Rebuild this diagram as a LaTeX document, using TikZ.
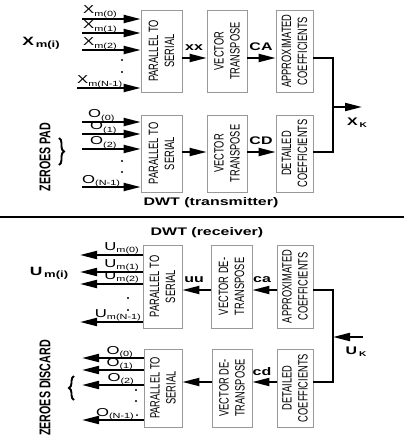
\documentclass[tikz,border=0pt]{standalone}
\usepackage{fontspec}
\setmainfont{Liberation Sans}
\newfontfamily\widesans[FakeStretch=1.45]{Liberation Sans}
\newfontfamily\tallsans[FakeStretch=0.69]{Liberation Sans}
\usetikzlibrary{positioning}
\usetikzlibrary{calc}
\usetikzlibrary{arrows.meta}
\usetikzlibrary{decorations.pathreplacing}

\newcommand{\sigtxt}[2]{{\fontsize{11.5}{11.5}\selectfont #1\raisebox{-2.5pt}{\fontsize{7.5}{8}\selectfont #2}}}

\tikzset{
  blk/.style={draw=gray!80, line width=0.8pt, inner sep=0pt},
  boxtxt/.style={rotate=90, align=center, inner sep=0pt, font=\tallsans\fontsize{13.5}{16}\selectfont},
  sidetxt/.style={rotate=90, inner sep=0pt, font=\tallsans\bfseries\fontsize{15.5}{16}\selectfont},
  arr/.style={line width=2pt, -{Triangle[length=17pt,width=8pt]}},
  bus/.style={line width=2.6pt},
  sig/.style={inner sep=0pt, font=\widesans},
  tag/.style={inner sep=0pt, font=\widesans\bfseries\fontsize{11}{11}\selectfont},
  brc/.style={line width=1.9pt, decorate, decoration={brace, amplitude=5pt}},
  dot/.style={fill=black}
}

\begin{document}
\begin{tikzpicture}[x=1pt, y=-1pt]
\useasboundingbox (0,0) rectangle (404,438);

% transmitter boxes
\node[blk, minimum width=41pt, minimum height=82pt] (ps1) at (161.5,51) {};
\node[blk, minimum width=40pt, minimum height=82pt] (vt1) at (227,51) {};
\node[blk, minimum width=37pt, minimum height=82pt] (ac1) at (294.5,51) {};
\node[blk, minimum width=41pt, minimum height=77pt] (ps2) at (161.5,153.5) {};
\node[blk, minimum width=40pt, minimum height=77pt] (vt2) at (227,153.5) {};
\node[blk, minimum width=37pt, minimum height=77pt] (dc1) at (294.5,153.5) {};

\node[boxtxt] (ps1t) at (ps1) {PARALLEL TO\\SERIAL};
\node[boxtxt] (vt1t) at (vt1) {VECTOR\\TRANSPOSE};
\node[boxtxt] (ac1t) at (ac1) {APPROXIMATED\\COEFFICIENTS};
\node[boxtxt] (ps2t) at (ps2) {PARALLEL TO\\SERIAL};
\node[boxtxt] (vt2t) at (vt2) {VECTOR\\TRANSPOSE};
\node[boxtxt] (dc1t) at (dc1) {DETAILED\\COEFFICIENTS};

% receiver boxes
\node[blk, minimum width=39pt, minimum height=83pt] (ps3) at (162.5,286.5) {};
\node[blk, minimum width=41pt, minimum height=83pt] (vt3) at (231.5,286.5) {};
\node[blk, minimum width=36pt, minimum height=83pt] (ac3) at (295,286.5) {};
\node[blk, minimum width=38pt, minimum height=78pt] (ps4) at (163,388) {};
\node[blk, minimum width=40pt, minimum height=78pt] (vt4) at (232,388) {};
\node[blk, minimum width=36pt, minimum height=78pt] (dc2) at (295,388) {};

\node[boxtxt] (ps3t) at (ps3) {PARALLEL TO\\SERIAL};
\node[boxtxt] (vt3t) at (vt3) {VECTOR DE-\\TRANSPOSE};
\node[boxtxt] (ac3t) at (ac3) {APPROXIMATED\\COEFFICIENTS};
\node[boxtxt] (ps4t) at (ps4) {PARALLEL TO\\SERIAL};
\node[boxtxt] (vt4t) at (vt4) {VECTOR DE-\\TRANSPOSE};
\node[boxtxt] (dc2t) at (dc2) {DETAILED\\COEFFICIENTS};

% transmitter chain
\draw[arr] ([yshift=-7pt]ps1.east) -- ([yshift=-7pt]vt1.west);
\draw[arr] ([yshift=-7pt]vt1.east) -- ([yshift=-7pt]ac1.west);
\draw[arr] ([yshift=1.5pt]ps2.east) -- ([yshift=1.5pt]vt2.west);
\draw[arr] ([yshift=1.5pt]vt2.east) -- ([yshift=1.5pt]dc1.west);
\node[tag] (xxl) at (194,48) {xx};
\node[tag] (cal) at (261,47) {CA};
\node[tag] (cdl) at (261,141) {CD};

\coordinate (jt) at (333,107);
\coordinate (xout) at (362,107);
\draw[bus] ([yshift=-7pt]ac1.east) -| (jt) |- ([yshift=1.5pt]dc1.east);
\draw[arr] (jt) -- (xout);
\node[tag] (xk) at (357,123) {X\,\raisebox{-2pt}{\fontsize{7}{7}\selectfont K}};

% transmitter inputs
\coordinate (xm0) at (82,19);
\coordinate (xm1) at (82,33);
\coordinate (xm2) at (82,50);
\coordinate (xmn) at (77,88);
\draw[arr] (xm0) -- (xm0 -| ps1.west);
\draw[arr] (xm1) -- (xm1 -| ps1.west);
\draw[arr] (xm2) -- (xm2 -| ps1.west);
\draw[arr] (xmn) -- (xmn -| ps1.west);
\node[sig, anchor=base west] (xm0l) at (83,14) {\sigtxt{X}{m(0)}};
\node[sig, anchor=base west] (xm1l) at (83,29) {\sigtxt{X}{m(1)}};
\node[sig, anchor=base west] (xm2l) at (83,46) {\sigtxt{X}{m(2)}};
\node[sig, anchor=base west] (xmnl) at (77,84) {\sigtxt{X}{m(N-1)}};
\fill[dot] (122,60) circle (1.2pt);
\fill[dot] (122,72) circle (1.2pt);
\node[tag] (xmi) at (41,43) {{\fontsize{12}{12}\selectfont X}\,\raisebox{-2pt}{\fontsize{9}{9}\selectfont m(i)}};

\coordinate (zp0) at (82,122);
\coordinate (zp1) at (82,134);
\coordinate (zp2) at (82,149);
\coordinate (zpn) at (82,187);
\draw[arr] (zp0) -- (zp0 -| ps2.west);
\draw[arr] (zp1) -- (zp1 -| ps2.west);
\draw[arr] (zp2) -- (zp2 -| ps2.west);
\draw[arr] (zpn) -- (zpn -| ps2.west);
\node[sig, anchor=base west] (zp0l) at (88,118) {\sigtxt{O}{(0)}};
\node[sig, anchor=base west] (zp1l) at (90,130) {\sigtxt{O}{(1)}};
\node[sig, anchor=base west] (zp2l) at (90,145) {\sigtxt{O}{(2)}};
\node[sig, anchor=base west] (zpnl) at (82,183) {\sigtxt{O}{(N-1)}};
\fill[dot] (122,161) circle (1.2pt);
\fill[dot] (122,172) circle (1.2pt);
\node[sidetxt] (zpad) at (45,157) {ZEROES PAD};
\draw[brc] (59,138) -- (59,165);

\node[tag] (txl) at (211,203) {DWT (transmitter)};
\draw[line width=1.3pt] (0,217) -- (404,217);
\node[tag] (rxl) at (207,233) {DWT (receiver)};

% receiver chain
\draw[arr] ([yshift=-3.5pt]ac3.west) -- ([yshift=-3.5pt]vt3.east);
\draw[arr] ([yshift=-3.5pt]vt3.west) -- ([yshift=-3.5pt]ps3.east);
\draw[arr] ([yshift=6pt]dc2.west) -- ([yshift=6pt]vt4.east);
\draw[arr] ([yshift=6pt]vt4.west) -- ([yshift=6pt]ps4.east);
\node[tag] (uul) at (194,280) {uu};
\node[tag] (cal2) at (262,280) {ca};
\node[tag] (cdl2) at (262,372) {cd};

\coordinate (jr) at (333,337);
\coordinate (uin) at (363,337);
\draw[bus] ([yshift=-3.5pt]ac3.east) -| (jr) |- ([yshift=6pt]dc2.east);
\draw[arr] (uin) -- (jr);
\node[tag] (uk) at (356,352) {U\,\raisebox{-2pt}{\fontsize{7}{7}\selectfont K}};

% receiver outputs
\coordinate (um0) at (80,255);
\coordinate (um1) at (80,272);
\coordinate (um2) at (80,284);
\coordinate (umn) at (80,322);
\draw[arr] (um0 -| ps3.west) -- (um0);
\draw[arr] (um1 -| ps3.west) -- (um1);
\draw[arr] (um2 -| ps3.west) -- (um2);
\draw[arr] (umn -| ps3.west) -- (umn);
\node[sig, anchor=base east] (um0l) at (139,250) {\sigtxt{U}{m(0)}};
\node[sig, anchor=base east] (um1l) at (139,267) {\sigtxt{U}{m(1)}};
\node[sig, anchor=base east] (um2l) at (139,279) {\sigtxt{U}{m(2)}};
\node[sig, anchor=base east] (umnl) at (141,317) {\sigtxt{U}{m(N-1)}};
\fill[dot] (128,298) circle (1.2pt);
\fill[dot] (128,310) circle (1.2pt);
\node[tag] (umi) at (49,273) {{\fontsize{12}{12}\selectfont U}\,\raisebox{-2pt}{\fontsize{9}{9}\selectfont m(i)}};

\coordinate (zd0) at (82,358);
\coordinate (zd1) at (82,370);
\coordinate (zd2) at (82,385);
\coordinate (zdn) at (82,420);
\draw[arr] (zd0 -| ps4.west) -- (zd0);
\draw[arr] (zd1 -| ps4.west) -- (zd1);
\draw[arr] (zd2 -| ps4.west) -- (zd2);
\draw[arr] (zdn -| ps4.west) -- (zdn);
\node[sig, anchor=base east] (zd0l) at (133,354) {\sigtxt{O}{(0)}};
\node[sig, anchor=base east] (zd1l) at (133,366) {\sigtxt{O}{(1)}};
\node[sig, anchor=base east] (zd2l) at (134,381) {\sigtxt{O}{(2)}};
\node[sig, anchor=base east] (zdnl) at (134,416) {\sigtxt{O}{(N-1)}};
\fill[dot] (136,390) circle (1.2pt);
\fill[dot] (136,401) circle (1.2pt);
\fill[dot] (137,415) circle (1pt);
\node[sidetxt] (zdis) at (45,388) {ZEROES DISCARD};
\draw[brc] (74,400) -- (74,376);
\end{tikzpicture}
\end{document}
